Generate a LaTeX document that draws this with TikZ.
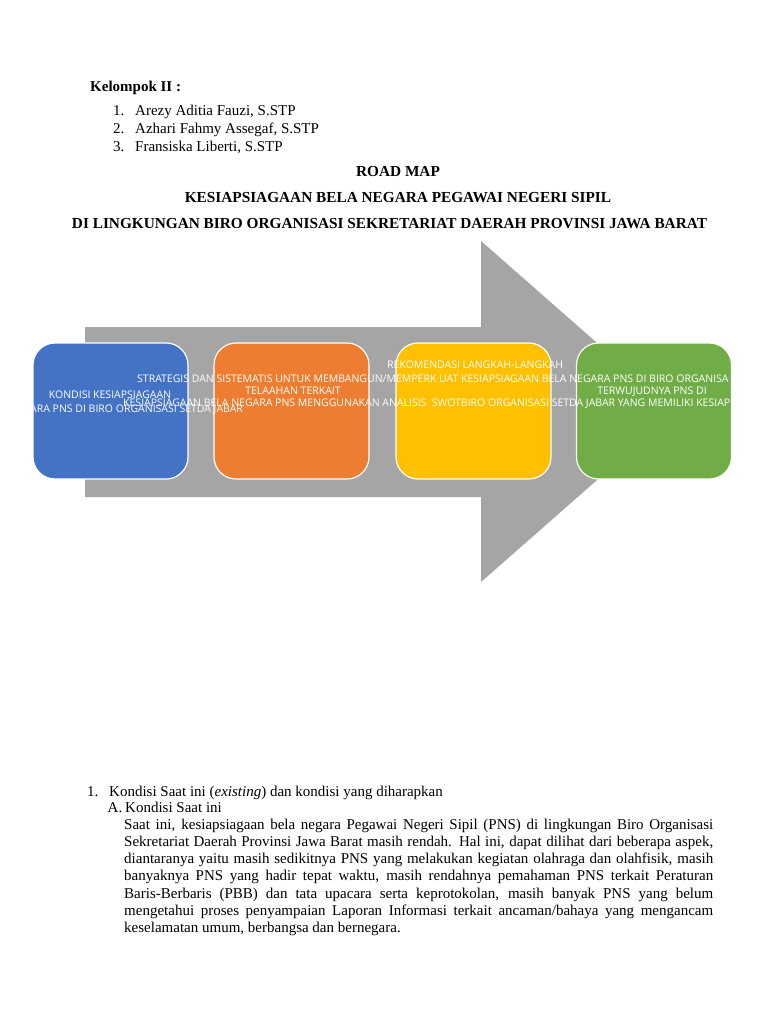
\documentclass[tikz,border=0pt]{standalone}
\usepackage{fontspec}
\setmainfont{Liberation Serif}
\newfontfamily\diagfont{Open Sans}
\definecolor{arrowgray}{HTML}{A5A5A5}
\definecolor{sblue}{HTML}{4472C4}
\definecolor{sorange}{HTML}{ED7D31}
\definecolor{syellow}{HTML}{FFC000}
\definecolor{sgreen}{HTML}{70AD47}
\begin{document}
\begin{tikzpicture}[x=1pt,y=-1pt,
  body/.style={font=\fontsize{15}{17.3}\selectfont, anchor=base west, inner sep=0pt},
  btitle/.style={font=\bfseries\fontsize{15.3}{17}\selectfont, anchor=base, inner sep=0pt},
  stepbox/.style={draw=white, line width=1.2pt, rounded corners=22pt, minimum width=155pt, minimum height=136pt, inner sep=0pt},
  dtext/.style={font=\diagfont\fontsize{10.5}{12}\selectfont, text=white, inner sep=0pt}]
\useasboundingbox (0,0) rectangle (768,1024);
\fill[white] (0,0) rectangle (768,1024);
% header
\node[body, font=\bfseries\fontsize{15}{17.3}\selectfont] (grp) at (90,92) {Kelompok II :};
\node[body] (n1) at (113,115.5) {1.};
\node[body] (m1) at (135,115.5) {Arezy Aditia Fauzi, S.STP};
\node[body] (n2) at (113,133.5) {2.};
\node[body] (m2) at (135,133.5) {Azhari Fahmy Assegaf, S.STP};
\node[body] (n3) at (113,151.5) {3.};
\node[body] (m3) at (135,151.5) {Fransiska Liberti, S.STP};
\node[btitle] (t1) at (398,177) {ROAD MAP};
\node[btitle] (t2) at (398,203) {KESIAPSIAGAAN BELA NEGARA PEGAWAI NEGERI SIPIL};
\node[btitle] (t3) at (389.5,229) {DI LINGKUNGAN BIRO ORGANISASI SEKRETARIAT DAERAH PROVINSI JAWA BARAT};
% arrow
\fill[arrowgray] (85,327) -- (481,327) -- (481,241) -- (675,411.5) -- (481,582) -- (481,497) -- (85,497) -- cycle;
% boxes
\node[stepbox, fill=sblue] (b1) at (110.5,411) {};
\node[stepbox, fill=sorange] (b2) at (291.5,411) {};
\node[stepbox, fill=syellow] (b3) at (473.5,411) {};
\node[stepbox, fill=sgreen] (b4) at (654,411) {};
\begin{scope}
\clip (30,300) rectangle (733,520);
\node[dtext, anchor=base west] (l1) at (387,368.7) {REKOMENDASI LANGKAH-LANGKAH};
\node[dtext, anchor=base west] (l2) at (137,382.7) {STRATEGIS DAN SISTEMATIS UNTUK MEMBANGUN/MEMPERK UAT KESIAPSIAGAAN BELA NEGARA PNS DI BIRO ORGANISA};
\node[dtext, anchor=base] (l3) at (293,394.7) {TELAAHAN TERKAIT};
\node[dtext, anchor=base] (l4) at (652,394.7) {TERWUJUDNYA PNS DI};
\node[dtext, anchor=base] (l5) at (110,398.7) {KONDISI KESIAPSIAGAAN};
\node[dtext, anchor=base west] (l6) at (123,406.7) {KESIAPSIAGAAN BELA NEGARA PNS MENGGUNAKAN ANALISIS\ \ SWOTBIRO ORGANISASI SETDA JABAR YANG MEMILIKI KESIAP};
\node[dtext, anchor=base west] (l7) at (30,412.7) {ARA PNS DI BIRO ORGANISASI SETDA JABAR};
\end{scope}
% body text
\node[body] (k1) at (87,796) {1.};
\node[body] (k1t) at (109,796) {Kondisi Saat ini (\textit{existing}) dan kondisi yang diharapkan};
\node[body] (ka) at (107.5,812.5) {A.};
\node[body] (kat) at (125,812.5) {Kondisi Saat ini};
\node[body] (p1) at (124,829) {\makebox[589pt][s]{Saat ini, kesiapsiagaan bela negara Pegawai Negeri Sipil (PNS) di lingkungan Biro Organisasi}};
\node[body] (p2) at (124,846.3) {\makebox[589pt][s]{Sekretariat Daerah Provinsi Jawa Barat masih rendah. Hal ini, dapat dilihat dari beberapa aspek,}};
\node[body] (p3) at (124,863.6) {\makebox[589pt][s]{diantaranya yaitu masih sedikitnya PNS yang melakukan kegiatan olahraga dan olahfisik, masih}};
\node[body] (p4) at (124,880.9) {\makebox[589pt][s]{banyaknya PNS yang hadir tepat waktu, masih rendahnya pemahaman PNS terkait Peraturan}};
\node[body] (p5) at (124,898.2) {\makebox[589pt][s]{Baris-Berbaris (PBB) dan tata upacara serta keprotokolan, masih banyak PNS yang belum}};
\node[body] (p6) at (124,915.5) {\makebox[589pt][s]{mengetahui proses penyampaian Laporan Informasi terkait ancaman/bahaya yang mengancam}};
\node[body] (p7) at (124,932.8) {keselamatan umum, berbangsa dan bernegara.};
\end{tikzpicture}
\end{document}
